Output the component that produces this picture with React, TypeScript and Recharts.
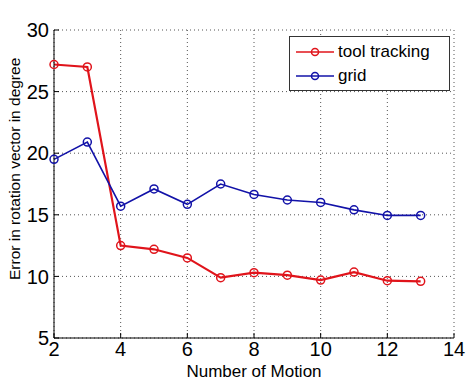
import { LineChart, Line, XAxis, YAxis, CartesianGrid } from 'recharts';

const motions = [2, 3, 4, 5, 6, 7, 8, 9, 10, 11, 12, 13];
const toolTracking = [27.2, 27.0, 12.5, 12.2, 11.5, 9.9, 10.3, 10.1, 9.7, 10.35, 9.65, 9.6];
const gridErr = [19.5, 20.9, 15.7, 17.1, 15.85, 17.5, 16.65, 16.2, 16.0, 15.4, 14.95, 14.95];
const xTicks = [2, 4, 6, 8, 10, 12, 14];
const yTicks = [5, 10, 15, 20, 25, 30];
const seriesNames = ['tool tracking', 'grid'];

const data = motions.map((m, i) => ({ m, tool: toolTracking[i], grid: gridErr[i] }));

const FONT = '"Liberation Sans", Arial, sans-serif';
const RED = '#e0141b';
const BLUE = '#1212a8';

function LegendBox() {
  const colors = [RED, BLUE];
  return (
    <div
      style={{
        position: 'absolute',
        left: 289,
        top: 36,
        border: '1px solid #333',
        background: '#fff',
        width: 161,
        height: 55,
        boxSizing: 'border-box',
        fontFamily: FONT,
        fontSize: 17,
        color: '#000',
        padding: '3px 0 0 6px',
      }}
    >
      {seriesNames.map((name, i) => (
        <div key={name} style={{ display: 'flex', alignItems: 'center', height: 24 }}>
          <svg width={38} height={12} style={{ marginRight: 4 }}>
            <line x1={0} y1={6} x2={38} y2={6} stroke={colors[i]} strokeWidth={1.5} />
            <circle cx={19} cy={6} r={3.5} fill="none" stroke={colors[i]} strokeWidth={1.5} />
          </svg>
          <span>{name}</span>
        </div>
      ))}
    </div>
  );
}

export default function App() {
  return (
    <div style={{ position: 'absolute', left: 0, top: 0, width: 474, height: 385, background: '#fff' }}>
      <LineChart width={474} height={385} data={data} margin={{ top: 30, right: 20, left: 14, bottom: 17 }}>
        <CartesianGrid stroke="#555" strokeDasharray="1 3" />
        <XAxis
          dataKey="m"
          type="number"
          domain={[2, 14]}
          ticks={xTicks}
          height={30}
          stroke="#000"
          tickSize={-5}
          tickMargin={9}
          tick={{ fontSize: 20, fill: '#000', fontFamily: FONT }}
          label={{ value: 'Number of Motion', position: 'insideBottom', offset: -9, fontSize: 17, fill: '#000', fontFamily: FONT }}
        />
        <YAxis
          type="number"
          domain={[5, 30]}
          ticks={yTicks}
          width={40}
          stroke="#000"
          tickSize={-5}
          tickMargin={10}
          tick={{ fontSize: 20, fill: '#000', fontFamily: FONT }}
          label={{ value: 'Error in rotation vector in degree', angle: -90, position: 'insideLeft', offset: 0, dy: 96, fontSize: 15.5, fill: '#000', fontFamily: FONT }}
        />
        <Line
          type="linear"
          dataKey="tool"
          name={seriesNames[0]}
          stroke={RED}
          strokeWidth={2.2}
          dot={{ r: 4, fill: 'none', stroke: RED, strokeWidth: 1.5 }}
          isAnimationActive={false}
        />
        <Line
          type="linear"
          dataKey="grid"
          name={seriesNames[1]}
          stroke={BLUE}
          strokeWidth={1.6}
          dot={{ r: 4, fill: 'none', stroke: BLUE, strokeWidth: 1.5 }}
          isAnimationActive={false}
        />
      </LineChart>
      <LegendBox />
    </div>
  );
}
